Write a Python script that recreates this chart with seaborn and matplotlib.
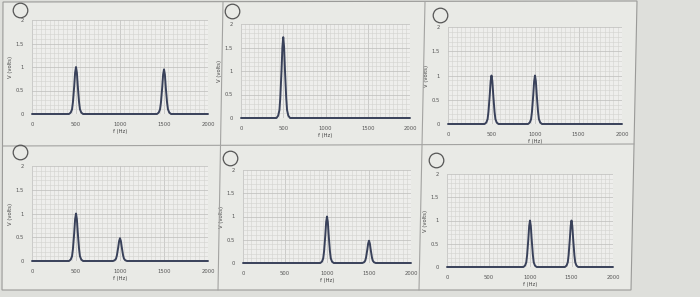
import matplotlib
matplotlib.use("Agg")
import matplotlib.pyplot as plt
import seaborn as sns
import pandas as pd
from matplotlib.lines import Line2D
from matplotlib.patches import Polygon

sns.set_theme(style="white")
plt.rcParams['font.family'] = ['DejaVu Sans']

# ---- data ----
x_ticks = [0, 500, 1000, 1500, 2000]
y_ticks = [0, 0.5, 1, 1.5, 2]
x_label = "f (Hz)"
y_label = "V (volts)"

# Panel A: peaks at 500 Hz (1.0) and 1500 Hz (0.95)
f_a = [0, 420, 440, 455, 465, 480, 490, 500, 510, 520, 535, 545, 560, 580,
       1420, 1440, 1455, 1465, 1480, 1490, 1500, 1510, 1520, 1535, 1545, 1560, 1580, 2000]
v_a = [0, 0, 0.03, 0.1, 0.25, 0.6, 0.88, 1.0, 0.88, 0.6, 0.25, 0.1, 0.03, 0,
       0, 0.03, 0.1, 0.24, 0.57, 0.84, 0.95, 0.84, 0.57, 0.24, 0.1, 0.03, 0, 0]

# Panel B: single peak at 500 Hz (1.72)
f_b = [0, 420, 440, 455, 465, 480, 490, 500, 510, 520, 535, 545, 560, 580, 2000]
v_b = [0, 0, 0.05, 0.17, 0.43, 1.03, 1.51, 1.72, 1.51, 1.03, 0.43, 0.17, 0.05, 0, 0]

# Panel C: peaks at 500 Hz (1.0) and 1000 Hz (1.0)
f_c = [0, 420, 440, 455, 465, 480, 490, 500, 510, 520, 535, 545, 560, 580,
       920, 940, 955, 965, 980, 990, 1000, 1010, 1020, 1035, 1045, 1060, 1080, 2000]
v_c = [0, 0, 0.03, 0.1, 0.25, 0.6, 0.88, 1.0, 0.88, 0.6, 0.25, 0.1, 0.03, 0,
       0, 0.03, 0.1, 0.25, 0.6, 0.88, 1.0, 0.88, 0.6, 0.25, 0.1, 0.03, 0, 0]

# Panel D: peaks at 500 Hz (1.0) and 1000 Hz (0.48)
f_d = [0, 420, 440, 455, 465, 480, 490, 500, 510, 520, 535, 545, 560, 580,
       920, 940, 955, 965, 980, 990, 1000, 1010, 1020, 1035, 1045, 1060, 1080, 2000]
v_d = [0, 0, 0.03, 0.1, 0.25, 0.6, 0.88, 1.0, 0.88, 0.6, 0.25, 0.1, 0.03, 0,
       0, 0.015, 0.05, 0.12, 0.29, 0.42, 0.48, 0.42, 0.29, 0.12, 0.05, 0.015, 0, 0]

# Panel E: peaks at 1000 Hz (1.0) and 1500 Hz (0.48)
f_e = [0, 920, 940, 955, 965, 980, 990, 1000, 1010, 1020, 1035, 1045, 1060, 1080,
       1420, 1440, 1455, 1465, 1480, 1490, 1500, 1510, 1520, 1535, 1545, 1560, 1580, 2000]
v_e = [0, 0, 0.03, 0.1, 0.25, 0.6, 0.88, 1.0, 0.88, 0.6, 0.25, 0.1, 0.03, 0,
       0, 0.015, 0.05, 0.12, 0.29, 0.42, 0.48, 0.42, 0.29, 0.12, 0.05, 0.015, 0, 0]

# Panel F: peaks at 1000 Hz (1.0) and 1500 Hz (1.0)
f_f = [0, 920, 940, 955, 965, 980, 990, 1000, 1010, 1020, 1035, 1045, 1060, 1080,
       1420, 1440, 1455, 1465, 1480, 1490, 1500, 1510, 1520, 1535, 1545, 1560, 1580, 2000]
v_f = [0, 0, 0.03, 0.1, 0.25, 0.6, 0.88, 1.0, 0.88, 0.6, 0.25, 0.1, 0.03, 0,
       0, 0.03, 0.1, 0.25, 0.6, 0.88, 1.0, 0.88, 0.6, 0.25, 0.1, 0.03, 0, 0]

panels = [(f_a, v_a), (f_b, v_b), (f_c, v_c), (f_d, v_d), (f_e, v_e), (f_f, v_f)]

# ---- layout ----
W, H = 700, 297
fig = plt.figure(figsize=(7.0, 2.97), dpi=100, facecolor="#dedfdb")

def P(x, y):
    return (x / W, 1 - y / H)

# lighter sheet with the question cells
sheet = Polygon([P(3, 2), P(637, 1), P(631, 290), P(2, 290)], closed=True,
                transform=fig.transFigure, facecolor="#e9eae6", edgecolor="#9a9a98",
                linewidth=0.8, zorder=0)
fig.add_artist(sheet)
for (x0, y0, x1, y1) in [(223, 2, 218, 290), (425, 2, 419, 290), (3, 146, 634, 144)]:
    fig.add_artist(Line2D([x0 / W, x1 / W], [1 - y0 / H, 1 - y1 / H],
                          transform=fig.transFigure, color="#a3a3a1", lw=0.8))

axes_px = [(32, 20, 208, 114), (241, 24, 410, 118), (448, 27, 622, 124),
           (32, 166, 208, 261), (243, 170, 411, 263), (447, 174, 613, 267)]
circles = [(20, 10), (232, 11), (440, 15), (20, 152), (230, 158), (436, 160)]

for (f, v), (x0, y0, x1, y1), (cx, cy) in zip(panels, axes_px, circles):
    ax = fig.add_axes([x0 / W, 1 - y1 / H, (x1 - x0) / W, (y1 - y0) / H])
    ax.set_facecolor("#eeeeec")
    df = pd.DataFrame({"f": f, "V": v})
    sns.lineplot(data=df, x="f", y="V", ax=ax, color="#39415a", lw=1.4,
                 estimator=None, sort=False, clip_on=False)
    ax.set_xlim(0, 2000)
    ax.set_ylim(0, 2)
    ax.set_xticks(x_ticks)
    ax.set_yticks(y_ticks)
    ax.set_xticklabels([str(t) for t in x_ticks])
    ax.set_yticklabels(["0", "0.5", "1", "1.5", "2"])
    ax.set_xticks(range(0, 2001, 50), minor=True)
    ax.set_yticks([i / 10 for i in range(21)], minor=True)
    ax.grid(True, which="minor", color="#d2d2cf", lw=0.4)
    ax.grid(True, which="major", color="#bdbdba", lw=0.5)
    ax.tick_params(axis="both", which="both", length=0, labelsize=3.8,
                   colors="#555555", pad=6)
    ax.set_xlabel(x_label, fontsize=3.8, color="#444444", labelpad=1)
    ax.set_ylabel(y_label, fontsize=3.8, color="#444444", labelpad=2)
    for s in ax.spines.values():
        s.set_visible(False)
    fig.add_artist(Line2D([cx / W], [1 - cy / H], transform=fig.transFigure,
                          marker="o", markersize=10.5, markerfacecolor="none",
                          markeredgecolor="#555555", markeredgewidth=0.9, linestyle="none"))

fig.savefig("out.png", dpi=100, facecolor=fig.get_facecolor())
